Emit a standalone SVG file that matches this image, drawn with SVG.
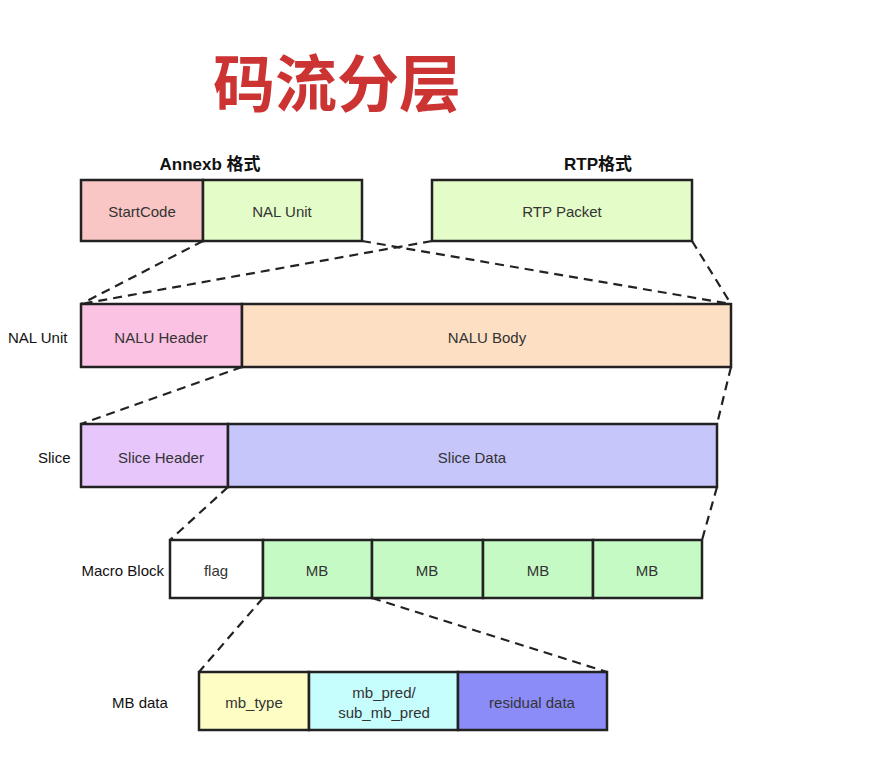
<svg xmlns="http://www.w3.org/2000/svg" width="878" height="779" viewBox="0 0 878 779">
<style>
.b{stroke:#222;stroke-width:2.5}
.t{font-family:"Liberation Sans","Noto Sans CJK SC",sans-serif;font-size:15px;fill:#333;text-anchor:middle;dominant-baseline:central}
.l{font-family:"Liberation Sans","Noto Sans CJK SC",sans-serif;font-size:15px;fill:#111;dominant-baseline:central}
.h{font-family:"Liberation Sans","Noto Sans CJK SC",sans-serif;font-size:17px;font-weight:bold;fill:#111;text-anchor:middle;dominant-baseline:central}
.d{stroke:#222;stroke-width:2.2;stroke-dasharray:9 6;fill:none}
</style>
<rect width="878" height="779" fill="#fff"/>
<text x="337" y="80" font-family="Noto Sans CJK SC,sans-serif" font-size="62" font-weight="bold" fill="#cc3333" text-anchor="middle" dominant-baseline="central">码流分层</text>
<text class="h" x="210" y="164">Annexb 格式</text>
<text class="h" x="598" y="164">RTP格式</text>
<g id="annexb">
<rect class="b" x="81" y="180" width="122" height="61" fill="#f9c5c5"/><text class="t" x="142" y="211">StartCode</text>
<rect class="b" x="203" y="180" width="159" height="61" fill="#e3fcc8"/><text class="t" x="282" y="211">NAL Unit</text>
</g>
<g id="rtp"><rect class="b" x="432" y="180" width="260" height="61" fill="#e3fcc8"/><text class="t" x="562" y="211">RTP Packet</text></g>
<g id="nal">
<text class="l" x="8" y="337">NAL Unit</text>
<rect class="b" x="81" y="304" width="161" height="63" fill="#fbc2e3"/><text class="t" x="161" y="337">NALU Header</text>
<rect class="b" x="242" y="304" width="489" height="63" fill="#fde0c4"/><text class="t" x="487" y="337">NALU Body</text>
</g>
<g id="slice">
<text class="l" x="38" y="457">Slice</text>
<rect class="b" x="81" y="424" width="147" height="63" fill="#e7c6fb"/><text class="t" x="161" y="457">Slice Header</text>
<rect class="b" x="228" y="424" width="489" height="63" fill="#c6c6fb"/><text class="t" x="472" y="457">Slice Data</text>
</g>
<g id="mb">
<text class="l" x="164" y="570" text-anchor="end">Macro Block</text>
<rect class="b" x="170" y="540" width="93" height="58" fill="#fff"/><text class="t" x="216" y="570">flag</text>
<rect class="b" x="263" y="540" width="109" height="58" fill="#c5fac5"/><text class="t" x="317" y="570">MB</text>
<rect class="b" x="372" y="540" width="111" height="58" fill="#c5fac5"/><text class="t" x="427" y="570">MB</text>
<rect class="b" x="483" y="540" width="110" height="58" fill="#c5fac5"/><text class="t" x="538" y="570">MB</text>
<rect class="b" x="593" y="540" width="109" height="58" fill="#c5fac5"/><text class="t" x="647" y="570">MB</text>
</g>
<g id="mbdata">
<text class="l" x="112" y="702">MB data</text>
<rect class="b" x="199" y="672" width="110" height="58" fill="#fdfdc4"/><text class="t" x="254" y="702">mb_type</text>
<rect class="b" x="309" y="672" width="149" height="58" fill="#c6fdfd"/><text class="t" x="384" y="692">mb_pred/</text><text class="t" x="384" y="712">sub_mb_pred</text>
<rect class="b" x="458" y="672" width="149" height="58" fill="#8c8cf8"/><text class="t" x="532" y="702">residual data</text>
</g>
<g id="connectors">
<line class="d" x1="203" y1="241" x2="81" y2="304"/>
<line class="d" x1="362" y1="241" x2="731" y2="304"/>
<line class="d" x1="432" y1="241" x2="81" y2="304"/>
<line class="d" x1="692" y1="241" x2="731" y2="304"/>
<line class="d" x1="242" y1="367" x2="81" y2="424"/>
<line class="d" x1="731" y1="367" x2="717" y2="424"/>
<line class="d" x1="228" y1="487" x2="170" y2="540"/>
<line class="d" x1="717" y1="487" x2="702" y2="540"/>
<line class="d" x1="263" y1="598" x2="199" y2="672"/>
<line class="d" x1="372" y1="598" x2="607" y2="672"/>
</g>
</svg>
